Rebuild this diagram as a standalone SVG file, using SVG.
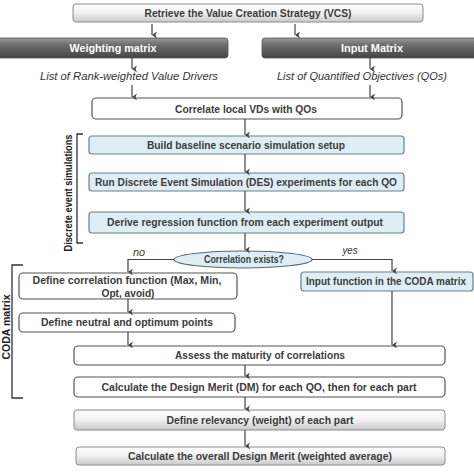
<svg xmlns="http://www.w3.org/2000/svg" width="474" height="474" viewBox="0 0 474 474">
<defs>
<linearGradient id="gLight" x1="0" y1="0" x2="0" y2="1">
<stop offset="0" stop-color="#ffffff"/>
<stop offset="0.5" stop-color="#f0f0f0"/>
<stop offset="1" stop-color="#c9c9c9"/>
</linearGradient>
<linearGradient id="gDark" x1="0" y1="0" x2="0" y2="1">
<stop offset="0" stop-color="#9a9a9a"/>
<stop offset="0.35" stop-color="#6e6e6e"/>
<stop offset="1" stop-color="#454545"/>
</linearGradient>
<marker id="ah" markerWidth="8" markerHeight="8" refX="4" refY="6" orient="auto" markerUnits="userSpaceOnUse" viewBox="0 0 8 8">
<path d="M0.5,1 L4,6 L7.5,1 L4,2.5 Z" fill="#444"/>
</marker>
</defs>
<style>
text{font-family:"Liberation Sans",Arial,sans-serif;font-size:10.5px;font-weight:bold;fill:#3c3c3c;text-anchor:middle}
.it{font-style:italic;font-weight:normal;fill:#333}
.wt{fill:#ffffff}
.light{fill:url(#gLight);stroke:#8c8c8c;stroke-width:1}
.dark{fill:url(#gDark);stroke:#555;stroke-width:0.8}
.white{fill:#ffffff;stroke:#555;stroke-width:1.2}
.blue{fill:#ddeef5;stroke:#6f7f88;stroke-width:1.2}
.c{fill:none;stroke:#444;stroke-width:1.2}
.br{fill:none;stroke:#333;stroke-width:1.3}
</style>

<g id="vcs">
<rect class="light" x="73" y="4" width="350" height="18" rx="3"/>
<text x="248" y="17" textLength="207" lengthAdjust="spacingAndGlyphs">Retrieve the Value Creation Strategy (VCS)</text>
</g>
<g id="weighting">
<rect class="dark" x="-4" y="38" width="232" height="20" rx="3"/>
<text class="wt" x="113" y="52" textLength="87" lengthAdjust="spacingAndGlyphs">Weighting matrix</text>
</g>
<g id="input">
<rect class="dark" x="262" y="38" width="220" height="20" rx="3"/>
<text class="wt" x="372" y="52" textLength="62" lengthAdjust="spacingAndGlyphs">Input Matrix</text>
</g>
<g id="list-vd">
<text class="it" x="129" y="80" textLength="178" lengthAdjust="spacingAndGlyphs">List of Rank-weighted Value Drivers</text>
</g>
<g id="list-qo">
<text class="it" x="362" y="80" textLength="170" lengthAdjust="spacingAndGlyphs">List of Quantified Objectives (QOs)</text>
</g>
<g id="correlate">
<rect class="white" x="92" y="98" width="310" height="21" rx="4"/>
<text x="246" y="113" textLength="142" lengthAdjust="spacingAndGlyphs">Correlate local VDs with QOs</text>
</g>
<g id="build">
<rect class="blue" x="89" y="136" width="315" height="18" rx="3"/>
<text x="246" y="149" textLength="198" lengthAdjust="spacingAndGlyphs">Build baseline scenario simulation setup</text>
</g>
<g id="run">
<rect class="blue" x="89" y="173" width="315" height="18" rx="3"/>
<text x="246" y="186" textLength="302" lengthAdjust="spacingAndGlyphs">Run Discrete Event Simulation (DES) experiments for each QO</text>
</g>
<g id="derive">
<rect class="blue" x="89" y="212" width="315" height="21" rx="3"/>
<text x="245" y="226" textLength="276" lengthAdjust="spacingAndGlyphs">Derive regression function from each experiment output</text>
</g>
<g id="decision">
<ellipse cx="243" cy="259.5" rx="69" ry="8.5" fill="#ddeef5" stroke="#5a6a72" stroke-width="1.2"/>
<text x="244" y="263" textLength="80" lengthAdjust="spacingAndGlyphs">Correlation exists?</text>
</g>
<g id="define-fn">
<rect class="white" x="19" y="273" width="218" height="26" rx="4"/>
<text x="127" y="284" textLength="189" lengthAdjust="spacingAndGlyphs">Define correlation function (Max, Min,</text>
<text x="128" y="297" textLength="53" lengthAdjust="spacingAndGlyphs">Opt, avoid)</text>
</g>
<g id="input-fn">
<rect class="blue" x="301" y="272" width="172" height="19" rx="3"/>
<text x="306" y="285" style="text-anchor:start" textLength="160" lengthAdjust="spacingAndGlyphs">Input function in the CODA matrix</text>
</g>
<g id="neutral">
<rect class="white" x="19" y="313" width="216" height="19" rx="4"/>
<text x="127" y="326" textLength="172" lengthAdjust="spacingAndGlyphs">Define neutral and optimum points</text>
</g>
<g id="assess">
<rect class="white" x="74" y="346" width="371" height="19" rx="4"/>
<text x="260" y="359" textLength="170" lengthAdjust="spacingAndGlyphs">Assess the maturity of correlations</text>
</g>
<g id="calc-dm">
<rect class="white" x="74" y="377" width="371" height="20" rx="4"/>
<text x="259" y="391" textLength="315" lengthAdjust="spacingAndGlyphs">Calculate the Design Merit (DM) for each QO, then for each part</text>
</g>
<g id="relevancy">
<rect class="light" x="74" y="410" width="371" height="20" rx="3"/>
<text x="260" y="424" textLength="187" lengthAdjust="spacingAndGlyphs">Define relevancy (weight) of each part</text>
</g>
<g id="overall">
<rect class="light" x="76" y="447" width="369" height="18" rx="3"/>
<text x="260" y="460" textLength="264" lengthAdjust="spacingAndGlyphs">Calculate the overall Design Merit (weighted average)</text>
</g>

<g id="brackets">
<path class="br" d="M83,134 L77,134 L77,243 L83,243"/>
<text x="0" y="0" transform="translate(72,193) rotate(-90)" textLength="117" lengthAdjust="spacingAndGlyphs" style="font-size:11px;fill:#222">Discrete event simulations</text>
<path class="br" d="M23,265 L12,265 L12,398 L23,398"/>
<text x="0" y="0" transform="translate(10,327) rotate(-90)" textLength="65" lengthAdjust="spacingAndGlyphs" style="font-size:11px;fill:#222">CODA matrix</text>
</g>

<g id="connectors">
<line class="c" x1="152" y1="24" x2="152" y2="35" marker-end="url(#ah)"/>
<line class="c" x1="295" y1="24" x2="295" y2="35" marker-end="url(#ah)"/>
<line class="c" x1="132" y1="58" x2="132" y2="69" marker-end="url(#ah)"/>
<line class="c" x1="370" y1="58" x2="370" y2="69" marker-end="url(#ah)"/>
<line class="c" x1="132" y1="85" x2="132" y2="97" marker-end="url(#ah)"/>
<line class="c" x1="370" y1="85" x2="370" y2="97" marker-end="url(#ah)"/>
<line class="c" x1="245" y1="119" x2="245" y2="135" marker-end="url(#ah)"/>
<line class="c" x1="245" y1="154" x2="245" y2="172" marker-end="url(#ah)"/>
<line class="c" x1="245" y1="191" x2="245" y2="211" marker-end="url(#ah)"/>
<line class="c" x1="245" y1="233" x2="245" y2="250" marker-end="url(#ah)"/>
<polyline class="c" points="174,259.5 128,259.5 128,272" marker-end="url(#ah)"/>
<polyline class="c" points="312,259.5 392,259.5 392,271" marker-end="url(#ah)"/>
<line class="c" x1="128" y1="299" x2="128" y2="312" marker-end="url(#ah)"/>
<line class="c" x1="128" y1="332" x2="128" y2="345" marker-end="url(#ah)"/>
<line class="c" x1="392" y1="291" x2="392" y2="345" marker-end="url(#ah)"/>
<line class="c" x1="245" y1="365" x2="245" y2="376" marker-end="url(#ah)"/>
<line class="c" x1="245" y1="397" x2="245" y2="409" marker-end="url(#ah)"/>
<line class="c" x1="245" y1="430" x2="245" y2="446" marker-end="url(#ah)"/>
<text class="it" x="139" y="256" textLength="12" lengthAdjust="spacingAndGlyphs">no</text>
<text class="it" x="350" y="254" textLength="15" lengthAdjust="spacingAndGlyphs">yes</text>
</g>
</svg>
